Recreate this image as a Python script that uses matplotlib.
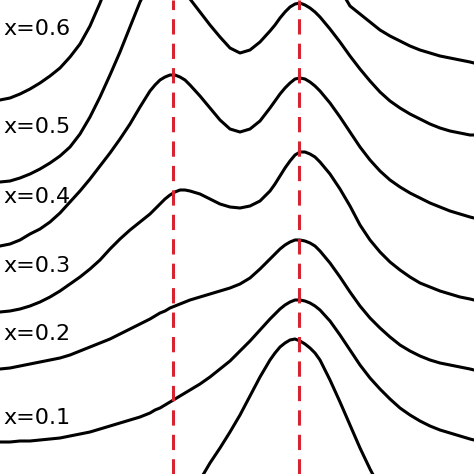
import numpy as np
import matplotlib
matplotlib.use("Agg")
import matplotlib.pyplot as plt

# energy axis (a.u.), shared by all spectra (denser round the peaks)
energy = [0, 10, 20, 30, 40, 50, 60, 70, 80, 90, 100, 110, 120, 130, 140, 150,
          155, 160, 165, 170, 175, 180, 185, 190,
          200, 210, 220, 230, 240, 250, 260, 270,
          275, 280, 285, 290, 295, 300, 305, 310, 315,
          320, 330, 340, 350, 360, 370, 380, 390, 400, 410, 420, 430, 440,
          450, 460, 470, 474]

# intensities (offset waterfall)
spec_00 = [-96, -95, -94, -93, -91, -90, -88, -86, -84, -82, -79, -76, -72, -68, -64, -58,
           -55, -52, -49, -45, -41, -36, -31, -24,
           -6, 11, 26, 42, 59, 78, 97, 114,
           121, 127, 131, 134, 135, 133, 130, 126, 121,
           114, 94, 72, 49, 26, 5, -14, -29, -41, -50, -57, -63, -68, -72, -75, -77, -78]
spec_01 = [32, 32, 33, 33, 34, 35, 36, 38, 40, 42, 45, 48, 51, 54, 57, 61,
           64, 66, 69, 72, 75, 78, 81, 84,
           90, 97, 105, 113, 123, 133, 144, 155,
           160, 165, 169, 172, 174, 174, 173, 171, 168,
           164, 153, 139, 124, 109, 96, 85, 75, 66, 59, 53, 48, 44, 41, 38, 35, 34]
spec_02 = [105, 106, 108, 110, 112, 114, 116, 119, 123, 127, 131, 135, 140, 145, 150, 155,
           158, 161, 163, 166, 168, 170, 172, 174,
           177, 180, 183, 186, 190, 196, 205, 215,
           220, 225, 229, 232, 234, 234, 233, 231, 228,
           223, 211, 197, 182, 168, 156, 146, 137, 129, 123, 118, 114, 111, 109, 107, 105, 104]
spec_03 = [162, 163, 165, 168, 172, 177, 183, 190, 197, 205, 214, 225, 235, 244, 252, 260,
           265, 270, 275, 279, 282, 284, 284, 283,
           280, 275, 270, 267, 266, 268, 273, 283,
           290, 298, 306, 313, 319, 322, 322, 320, 317,
           312, 300, 285, 268, 249, 234, 222, 212, 204, 197, 191, 187, 183, 180, 177, 175, 174]
spec_04 = [228, 230, 234, 240, 245, 252, 261, 272, 283, 295, 308, 321, 335, 350, 367, 383,
           389, 394, 397, 399, 399, 397, 394, 389,
           378, 366, 354, 345, 342, 345, 353, 366,
           373, 380, 386, 391, 395, 396, 395, 392, 388,
           383, 371, 357, 342, 327, 314, 303, 294, 287, 281, 276, 271, 267, 263, 260, 257, 256]
spec_05 = [292, 293, 296, 300, 305, 311, 318, 327, 340, 357, 377, 399, 422, 447, 472, 492,
           499, 504, 506, 505, 501, 494, 485, 475,
           462, 449, 437, 426, 421, 424, 432, 443,
           449, 456, 462, 467, 470, 471, 469, 466, 462,
           457, 445, 432, 418, 405, 393, 382, 373, 366, 360, 355, 350, 346, 343, 341, 339, 339]
spec_06 = [374, 376, 380, 385, 391, 398, 406, 417, 430, 448, 471, 496, 519, 536, 549, 559,
           563, 566, 568, 569, 569, 567, 564, 561,
           554, 548, 544, 542, 542, 545, 550, 556,
           559, 562, 565, 567, 568, 568, 566, 562, 556,
           548, 524, 485, 468, 460, 452, 444, 438, 433, 428, 424, 421, 418, 416, 414, 412, 411]

spectra = [spec_00, spec_01, spec_02, spec_03, spec_04, spec_05, spec_06]
labels = ["x=0.1", "x=0.2", "x=0.3", "x=0.4", "x=0.5", "x=0.6"]
label_heights = [50, 134, 202, 271, 341, 439]

peak_positions = [173, 299]

fig = plt.figure(figsize=(4.74, 4.74), dpi=100)
ax = fig.add_axes([0, 0, 1, 1])

for s in spectra:
    ax.plot(energy, s, color="black", lw=2.2, solid_joinstyle="round")

for p in peak_positions:
    ax.axvline(p, color="#d62430", lw=2.2, linestyle=(0, (5, 3)), zorder=5)

for lab, h in zip(labels, label_heights):
    ax.text(3, h, lab, fontsize=16, family="DejaVu Sans", va="baseline", ha="left")

ax.set_xlim(0, 474)
ax.set_ylim(0, 474)
ax.axis("off")

fig.savefig("out.png", dpi=100)
